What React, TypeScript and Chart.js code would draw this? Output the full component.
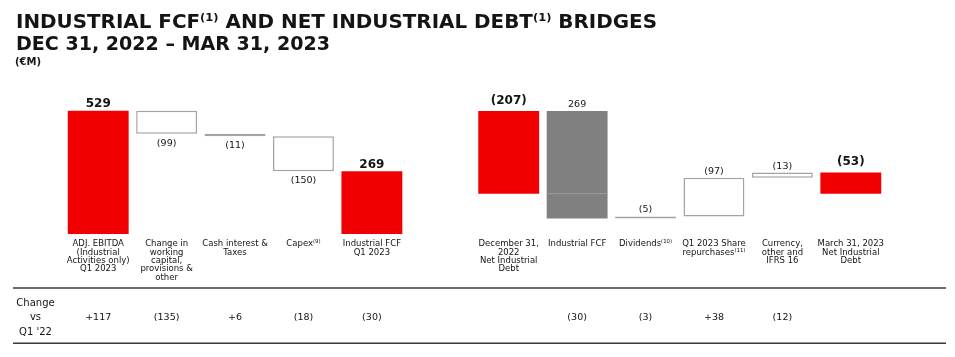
import React, { useEffect, useRef } from 'react';
import { Chart, registerables } from 'chart.js';

Chart.register(...registerables);

// ---------- DATA ----------
const categories: string[][] = [
  ['ADJ. EBITDA', '(Industrial', 'Activities only)', 'Q1 2023'],
  ['Change in', 'working', 'capital,', 'provisions &', 'other'],
  ['Cash interest &', 'Taxes'],
  ['Capex⁽⁹⁾'],
  ['Industrial FCF', 'Q1 2023'],
  [''],
  ['December 31,', '2022', 'Net Industrial', 'Debt'],
  ['Industrial FCF'],
  ['Dividends⁽¹⁰⁾'],
  ['Q1 2023 Share', 'repurchases⁽¹¹⁾'],
  ['Currency,', 'other and', 'IFRS 16'],
  ['March 31, 2023', 'Net Industrial', 'Debt'],
];

// Industrial FCF bridge (left), €M
const fcfSteps = [529, -99, -11, -150, 269];
const fcfKinds = ['total', 'delta', 'delta', 'delta', 'total'];
const fcfLabels = ['529', '(99)', '(11)', '(150)', '269'];

// Net industrial debt bridge (right), €M
const debtSteps = [207, -269, 5, 97, 13, 53];
const debtKinds = ['total', 'fcf', 'delta', 'delta', 'delta', 'total'];
const debtLabels = ['(207)', '269', '(5)', '(97)', '(13)', '(53)'];

// Change vs Q1 '22 row
const changeRowLabel = ['Change', 'vs', "Q1 '22"];
const changeValues = ['+117', '(135)', '+6', '(18)', '(30)', '', '', '(30)', '(3)', '+38', '(12)', ''];

const titleLine1 = ['INDUSTRIAL FCF', '(1)', ' AND NET INDUSTRIAL DEBT', '(1)', ' BRIDGES'];
const titleLine2 = 'DEC 31, 2022 – MAR 31, 2023';
const unitLabel = '(€M)';

// ---------- helpers ----------
function bridge(steps: number[], kinds: string[]): [number, number][] {
  let run = 0;
  return steps.map((v, i) => {
    if (kinds[i] === 'total') {
      run = v;
      return [0, v] as [number, number];
    }
    const s = run;
    run += v;
    return [s, run] as [number, number];
  });
}

const RED = '#f00000';
const GRAY = '#808080';
const OUTLINE = '#a3a3a3';
const TEXT = '#141414';
const FONT = "'DejaVu Sans'";

const leftRanges = bridge(fcfSteps, fcfKinds);
const rightRanges = bridge(debtSteps, debtKinds);
const nLeft = fcfSteps.length;
const gap = 1;
const total = categories.length;

const leftData: any[] = [...leftRanges, ...Array(total - nLeft).fill(null)];
const rightData: any[] = [...Array(nLeft + gap).fill(null), ...rightRanges];

const leftFill = fcfKinds.map((k) => (k === 'total' ? RED : '#ffffff'));
const leftBorder = fcfKinds.map((k) => (k === 'total' ? RED : OUTLINE));
const leftBW = fcfKinds.map((k) => (k === 'total' ? 0 : 1.5));
const rightFill = debtKinds.map((k) => (k === 'total' ? RED : k === 'fcf' ? GRAY : '#ffffff'));
const rightBorder = debtKinds.map((k) => (k === 'total' ? RED : k === 'fcf' ? GRAY : OUTLINE));
const rightBW = debtKinds.map((k) => (k === 'total' || k === 'fcf' ? 0 : 1.5));

const pad = (arr: any[], before: number, len: number, fill: any) => {
  const out = Array(len).fill(fill);
  arr.forEach((v, i) => (out[before + i] = v));
  return out;
};

function drawRich(ctx: CanvasRenderingContext2D, segs: { text: string; font: string; dy: number }[], x: number, y: number, width: number) {
  let natural = 0;
  segs.forEach((s) => {
    ctx.font = s.font;
    natural += ctx.measureText(s.text).width;
  });
  const k = width / natural;
  ctx.save();
  ctx.translate(x, y);
  ctx.scale(k, 1);
  let cx = 0;
  segs.forEach((s) => {
    ctx.font = s.font;
    ctx.fillText(s.text, cx, s.dy);
    cx += ctx.measureText(s.text).width;
  });
  ctx.restore();
}

const overlay = {
  id: 'overlay',
  afterDatasetsDraw(chart: any) {
    const ctx: CanvasRenderingContext2D = chart.ctx;
    const x = chart.scales.x;
    const yR = chart.scales.yR;
    ctx.save();
    // zero line across the industrial FCF bar
    const rMeta = chart.getDatasetMeta(1);
    debtKinds.forEach((k, i) => {
      if (k !== 'fcf') return;
      const el = rMeta.data[nLeft + gap + i];
      const y0 = yR.getPixelForValue(0);
      ctx.strokeStyle = '#9c9c9c';
      ctx.lineWidth = 1;
      ctx.beginPath();
      ctx.moveTo(el.x - el.width / 2, y0);
      ctx.lineTo(el.x + el.width / 2, y0);
      ctx.stroke();
    });
    ctx.restore();
  },
  afterDraw(chart: any) {
    const ctx: CanvasRenderingContext2D = chart.ctx;
    const x = chart.scales.x;
    ctx.save();
    ctx.fillStyle = TEXT;
    ctx.textBaseline = 'alphabetic';

    // Title
    ctx.textAlign = 'left';
    const big = `bold 19px ${FONT}`;
    const sup = `bold 11px ${FONT}`;
    drawRich(
      ctx,
      titleLine1.map((t, i) => ({ text: t, font: i % 2 === 1 ? sup : big, dy: i % 2 === 1 ? -7 : 0 })),
      16, 28, 641
    );
    drawRich(ctx, [{ text: titleLine2, font: big, dy: 0 }], 16, 50, 314);
    ctx.font = `bold 10px ${FONT}`;
    ctx.fillText(unitLabel, 15, 65);

    // value labels
    ctx.textAlign = 'center';
    const lMeta = chart.getDatasetMeta(0);
    fcfKinds.forEach((k, i) => {
      const el = lMeta.data[i];
      const top = Math.min(el.y, el.base);
      const bot = Math.max(el.y, el.base);
      if (k === 'total') {
        ctx.font = `bold 12px ${FONT}`;
        ctx.fillText(fcfLabels[i], el.x, top - 3.5);
      } else {
        ctx.font = `9.5px ${FONT}`;
        ctx.fillText(fcfLabels[i], el.x, bot + 12);
      }
    });
    const rMeta = chart.getDatasetMeta(1);
    debtKinds.forEach((k, i) => {
      const el = rMeta.data[nLeft + gap + i];
      const top = Math.min(el.y, el.base);
      if (k === 'total') {
        ctx.font = `bold 12px ${FONT}`;
        ctx.fillText(debtLabels[i], el.x, top - 7.5);
      } else {
        ctx.font = `9.5px ${FONT}`;
        ctx.fillText(debtLabels[i], el.x, top - 4);
      }
    });

    // category labels
    ctx.font = `8.5px ${FONT}`;
    categories.forEach((lines, i) => {
      const cx = x.getPixelForValue(i);
      lines.forEach((ln, j) => ctx.fillText(ln, cx, 246.2 + j * 8.4));
    });

    // change table
    ctx.strokeStyle = '#3a3a3a';
    ctx.lineWidth = 1.5;
    [288, 343.3].forEach((ly) => {
      ctx.beginPath();
      ctx.moveTo(13, ly);
      ctx.lineTo(946, ly);
      ctx.stroke();
    });
    ctx.font = `10px ${FONT}`;
    [305.5, 320, 334.5].forEach((by, j) => ctx.fillText(changeRowLabel[j], 35.5, by));
    ctx.font = `9.5px ${FONT}`;
    changeValues.forEach((v, i) => {
      if (!v) return;
      ctx.fillText(v, x.getPixelForValue(i), 320);
    });
    ctx.restore();
  },
};

export default function App() {
  const ref = useRef<HTMLCanvasElement | null>(null);
  useEffect(() => {
    if (!ref.current) return;
    const chart = new Chart(ref.current, {
      type: 'bar',
      data: {
        labels: categories,
        datasets: [
          {
            data: leftData,
            yAxisID: 'yL',
            backgroundColor: pad(leftFill, 0, total, '#fff'),
            borderColor: pad(leftBorder, 0, total, '#fff'),
            borderWidth: pad(leftBW, 0, total, 0),
            borderSkipped: false,
            grouped: false,
            categoryPercentage: 1,
            barPercentage: 0.89,
          } as any,
          {
            data: rightData,
            yAxisID: 'yR',
            backgroundColor: pad(rightFill, nLeft + gap, total, '#fff'),
            borderColor: pad(rightBorder, nLeft + gap, total, '#fff'),
            borderWidth: pad(rightBW, nLeft + gap, total, 0),
            borderSkipped: false,
            grouped: false,
            categoryPercentage: 1,
            barPercentage: 0.89,
          } as any,
        ],
      },
      options: {
        responsive: false,
        animation: false,
        layout: { padding: { left: 64, right: 70, top: 90, bottom: 121 } },
        plugins: { legend: { display: false }, tooltip: { enabled: false }, title: { display: false } },
        scales: {
          x: { display: false, offset: true },
          yL: { display: false, min: -8.58, max: 617.8 },
          yR: { display: false, min: -105.9, max: 259.6 },
        },
      },
      plugins: [overlay],
    });
    return () => chart.destroy();
  }, []);
  return (
    <div style={{ position: 'absolute', left: 0, top: 0, width: 955, height: 357, background: '#fff' }}>
      <canvas ref={ref} width={955} height={357} style={{ width: 955, height: 357, display: 'block' }} />
    </div>
  );
}
